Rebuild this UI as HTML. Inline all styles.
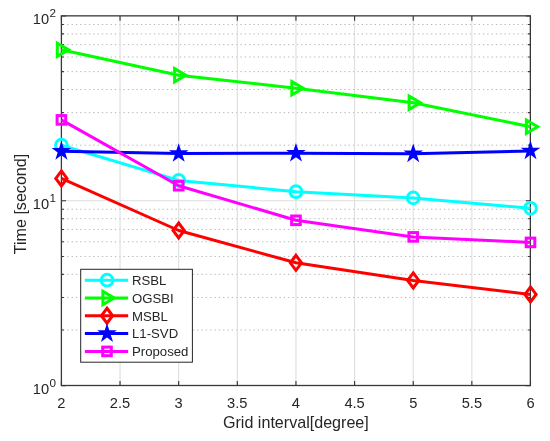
<!DOCTYPE html>
<html><head><meta charset="utf-8"><title>Time vs Grid interval</title>
<style>html,body{margin:0;padding:0;background:#fff}svg{display:block}</style></head>
<body>
<svg width="550" height="441" viewBox="0 0 550 441" font-family="'Liberation Sans', sans-serif" fill="#262626">
<rect width="550" height="441" fill="#fff"/>
<path d="M62.9 329.97H530.5M62.9 297.43H530.5M62.9 274.34H530.5M62.9 256.43H530.5M62.9 241.80H530.5M62.9 229.43H530.5M62.9 218.71H530.5M62.9 209.26H530.5M62.9 145.17H530.5M62.9 112.63H530.5M62.9 89.54H530.5M62.9 71.63H530.5M62.9 57.00H530.5M62.9 44.63H530.5M62.9 33.91H530.5M62.9 24.46H530.5" stroke="#b6b6b6" stroke-width="1" stroke-dasharray="1.35 2.98" fill="none"/>
<path d="M120.04 16.0V385.6M178.68 16.0V385.6M237.31 16.0V385.6M295.95 16.0V385.6M354.59 16.0V385.6M413.23 16.0V385.6M471.86 16.0V385.6M61.4 200.80H530.5" stroke="#dedede" stroke-width="1.1" fill="none"/>
<path d="M61.40 385.6v-4.7M61.40 16.0v4.7M120.04 385.6v-4.7M120.04 16.0v4.7M178.68 385.6v-4.7M178.68 16.0v4.7M237.31 385.6v-4.7M237.31 16.0v4.7M295.95 385.6v-4.7M295.95 16.0v4.7M354.59 385.6v-4.7M354.59 16.0v4.7M413.23 385.6v-4.7M413.23 16.0v4.7M471.86 385.6v-4.7M471.86 16.0v4.7M530.50 385.6v-4.7M530.50 16.0v4.7M61.4 385.60h4.7M530.5 385.60h-4.7M61.4 200.80h4.7M530.5 200.80h-4.7M61.4 16.00h4.7M530.5 16.00h-4.7M61.4 329.97h2.4M530.5 329.97h-2.4M61.4 297.43h2.4M530.5 297.43h-2.4M61.4 274.34h2.4M530.5 274.34h-2.4M61.4 256.43h2.4M530.5 256.43h-2.4M61.4 241.80h2.4M530.5 241.80h-2.4M61.4 229.43h2.4M530.5 229.43h-2.4M61.4 218.71h2.4M530.5 218.71h-2.4M61.4 209.26h2.4M530.5 209.26h-2.4M61.4 145.17h2.4M530.5 145.17h-2.4M61.4 112.63h2.4M530.5 112.63h-2.4M61.4 89.54h2.4M530.5 89.54h-2.4M61.4 71.63h2.4M530.5 71.63h-2.4M61.4 57.00h2.4M530.5 57.00h-2.4M61.4 44.63h2.4M530.5 44.63h-2.4M61.4 33.91h2.4M530.5 33.91h-2.4M61.4 24.46h2.4M530.5 24.46h-2.4" stroke="#303030" stroke-width="1.1" fill="none"/>
<rect x="61.4" y="15.85" width="468.95" height="369.65" fill="none" stroke="#383838" stroke-width="1.3"/>
<polyline points="61.40,145.20 178.68,180.40 295.95,191.70 413.23,197.90 530.50,208.30" fill="none" stroke="#00ffff" stroke-width="3.0" stroke-linejoin="round"/>
<circle cx="61.40" cy="145.20" r="5.85" fill="none" stroke="#00ffff" stroke-width="3.0"/>
<circle cx="178.68" cy="180.40" r="5.85" fill="none" stroke="#00ffff" stroke-width="3.0"/>
<circle cx="295.95" cy="191.70" r="5.85" fill="none" stroke="#00ffff" stroke-width="3.0"/>
<circle cx="413.23" cy="197.90" r="5.85" fill="none" stroke="#00ffff" stroke-width="3.0"/>
<circle cx="530.50" cy="208.30" r="5.85" fill="none" stroke="#00ffff" stroke-width="3.0"/>
<polyline points="61.40,49.80 178.68,75.20 295.95,88.20 413.23,102.70 530.50,126.70" fill="none" stroke="#00ff00" stroke-width="3.0" stroke-linejoin="round"/>
<path d="M57.30 43.20L68.60 49.80L57.30 56.40Z" fill="none" stroke="#00ff00" stroke-width="3.0" stroke-linejoin="miter"/>
<path d="M174.58 68.60L185.88 75.20L174.58 81.80Z" fill="none" stroke="#00ff00" stroke-width="3.0" stroke-linejoin="miter"/>
<path d="M291.85 81.60L303.15 88.20L291.85 94.80Z" fill="none" stroke="#00ff00" stroke-width="3.0" stroke-linejoin="miter"/>
<path d="M409.12 96.10L420.43 102.70L409.12 109.30Z" fill="none" stroke="#00ff00" stroke-width="3.0" stroke-linejoin="miter"/>
<path d="M526.40 120.10L537.70 126.70L526.40 133.30Z" fill="none" stroke="#00ff00" stroke-width="3.0" stroke-linejoin="miter"/>
<polyline points="61.40,178.40 178.68,230.50 295.95,262.80 413.23,280.40 530.50,294.40" fill="none" stroke="#ff0000" stroke-width="3.0" stroke-linejoin="round"/>
<path d="M61.40 170.90L67.00 178.40L61.40 185.90L55.80 178.40Z" fill="none" stroke="#ff0000" stroke-width="3.0" stroke-linejoin="miter"/>
<path d="M178.68 223.00L184.28 230.50L178.68 238.00L173.08 230.50Z" fill="none" stroke="#ff0000" stroke-width="3.0" stroke-linejoin="miter"/>
<path d="M295.95 255.30L301.55 262.80L295.95 270.30L290.35 262.80Z" fill="none" stroke="#ff0000" stroke-width="3.0" stroke-linejoin="miter"/>
<path d="M413.23 272.90L418.83 280.40L413.23 287.90L407.62 280.40Z" fill="none" stroke="#ff0000" stroke-width="3.0" stroke-linejoin="miter"/>
<path d="M530.50 286.90L536.10 294.40L530.50 301.90L524.90 294.40Z" fill="none" stroke="#ff0000" stroke-width="3.0" stroke-linejoin="miter"/>
<polyline points="61.40,151.30 178.68,153.50 295.95,153.20 413.23,153.80 530.50,150.90" fill="none" stroke="#0000ff" stroke-width="3.0" stroke-linejoin="round"/>
<path d="M61.40 141.00L63.71 148.12L71.20 148.12L65.14 152.52L67.45 159.63L61.40 155.23L55.35 159.63L57.66 152.52L51.60 148.12L59.09 148.12Z" fill="#0000ff"/>
<path d="M178.68 143.20L180.99 150.32L188.47 150.32L182.42 154.72L184.73 161.83L178.68 157.43L172.62 161.83L174.93 154.72L168.88 150.32L176.36 150.32Z" fill="#0000ff"/>
<path d="M295.95 142.90L298.26 150.02L305.75 150.02L299.69 154.42L302.00 161.53L295.95 157.13L289.90 161.53L292.21 154.42L286.15 150.02L293.64 150.02Z" fill="#0000ff"/>
<path d="M413.23 143.50L415.54 150.62L423.02 150.62L416.97 155.02L419.28 162.13L413.23 157.73L407.17 162.13L409.48 155.02L403.43 150.62L410.91 150.62Z" fill="#0000ff"/>
<path d="M530.50 140.60L532.81 147.72L540.30 147.72L534.24 152.12L536.55 159.23L530.50 154.83L524.45 159.23L526.76 152.12L520.70 147.72L528.19 147.72Z" fill="#0000ff"/>
<polyline points="61.40,119.90 178.68,185.70 295.95,220.30 413.23,236.90 530.50,242.40" fill="none" stroke="#ff00ff" stroke-width="3.0" stroke-linejoin="round"/>
<rect x="57.10" y="115.60" width="8.6" height="8.6" fill="none" stroke="#ff00ff" stroke-width="3.0"/>
<rect x="174.38" y="181.40" width="8.6" height="8.6" fill="none" stroke="#ff00ff" stroke-width="3.0"/>
<rect x="291.65" y="216.00" width="8.6" height="8.6" fill="none" stroke="#ff00ff" stroke-width="3.0"/>
<rect x="408.93" y="232.60" width="8.6" height="8.6" fill="none" stroke="#ff00ff" stroke-width="3.0"/>
<rect x="526.20" y="238.10" width="8.6" height="8.6" fill="none" stroke="#ff00ff" stroke-width="3.0"/>
<text x="61.40" y="407.6" font-size="14.67" text-anchor="middle">2</text>
<text x="120.04" y="407.6" font-size="14.67" text-anchor="middle">2.5</text>
<text x="178.68" y="407.6" font-size="14.67" text-anchor="middle">3</text>
<text x="237.31" y="407.6" font-size="14.67" text-anchor="middle">3.5</text>
<text x="295.95" y="407.6" font-size="14.67" text-anchor="middle">4</text>
<text x="354.59" y="407.6" font-size="14.67" text-anchor="middle">4.5</text>
<text x="413.23" y="407.6" font-size="14.67" text-anchor="middle">5</text>
<text x="471.86" y="407.6" font-size="14.67" text-anchor="middle">5.5</text>
<text x="530.50" y="407.6" font-size="14.67" text-anchor="middle">6</text>
<text x="49.1" y="393.60" font-size="14.67" text-anchor="end">10</text>
<text x="49.6" y="386.90" font-size="11.7">0</text>
<text x="49.1" y="208.80" font-size="14.67" text-anchor="end">10</text>
<text x="49.6" y="202.10" font-size="11.7">1</text>
<text x="49.1" y="24.00" font-size="14.67" text-anchor="end">10</text>
<text x="49.6" y="17.30" font-size="11.7">2</text>
<text x="295.9" y="428" font-size="16.1" text-anchor="middle">Grid interval[degree]</text>
<text transform="translate(26.2 204) rotate(-90)" font-size="16.1" text-anchor="middle">Time [second]</text>
<rect x="80.7" y="269.3" width="111.7" height="92.9" fill="#fff" stroke="#262626" stroke-width="1"/>
<path d="M84.9 280.2H128.2" stroke="#00ffff" stroke-width="3.0" fill="none"/>
<circle cx="107.00" cy="280.20" r="5.85" fill="none" stroke="#00ffff" stroke-width="3.0"/>
<text x="132.0" y="285.00" font-size="13.2">RSBL</text>
<path d="M84.9 298.0H128.2" stroke="#00ff00" stroke-width="3.0" fill="none"/>
<path d="M102.90 291.40L114.20 298.00L102.90 304.60Z" fill="none" stroke="#00ff00" stroke-width="3.0" stroke-linejoin="miter"/>
<text x="132.0" y="302.80" font-size="13.2">OGSBI</text>
<path d="M84.9 315.75H128.2" stroke="#ff0000" stroke-width="3.0" fill="none"/>
<path d="M107.00 308.25L112.60 315.75L107.00 323.25L101.40 315.75Z" fill="none" stroke="#ff0000" stroke-width="3.0" stroke-linejoin="miter"/>
<text x="132.0" y="320.55" font-size="13.2">MSBL</text>
<path d="M84.9 333.55H128.2" stroke="#0000ff" stroke-width="3.0" fill="none"/>
<path d="M107.00 323.25L109.31 330.37L116.80 330.37L110.74 334.77L113.05 341.88L107.00 337.48L100.95 341.88L103.26 334.77L97.20 330.37L104.69 330.37Z" fill="#0000ff"/>
<text x="132.0" y="338.35" font-size="13.2">L1-SVD</text>
<path d="M84.9 351.4H128.2" stroke="#ff00ff" stroke-width="3.0" fill="none"/>
<rect x="102.70" y="347.10" width="8.6" height="8.6" fill="none" stroke="#ff00ff" stroke-width="3.0"/>
<text x="132.0" y="356.20" font-size="13.2">Proposed</text>
</svg>
</body></html>
